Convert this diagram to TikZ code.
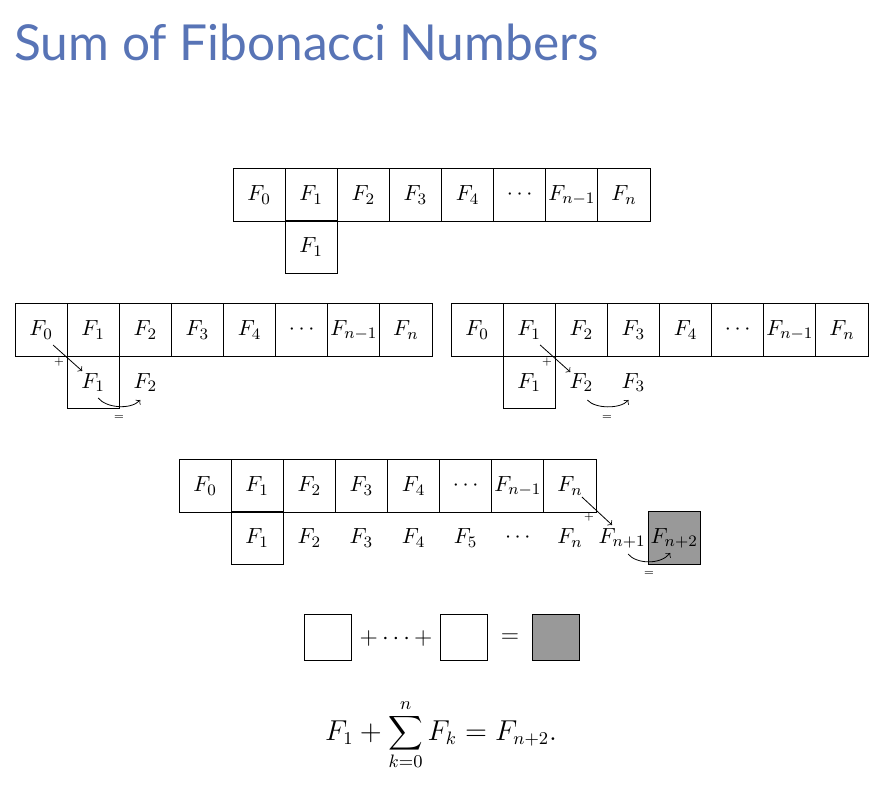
\documentclass[tikz,border=0pt]{standalone}
\usepackage{graphicx}
\usepackage{fontspec}
\newfontfamily\titlefont{Lato}
\definecolor{titleblue}{RGB}{88,116,182}
\definecolor{boxgray}{RGB}{153,153,153}
\newcommand{\bigsumsym}{\mathop{\vcenter{\hbox{\scalebox{1.2}{$\displaystyle\sum$}}}}}
\begin{document}
\begin{tikzpicture}[x=0.5pt,y=-0.5pt,
  cell/.style={draw,line width=0.5pt,minimum width=26.06pt,minimum height=26.06pt,inner sep=0pt,font=\fontsize{10.8}{12}\selectfont},
  txt/.style={inner sep=0pt,font=\fontsize{10.8}{12}\selectfont},
  graycell/.style={cell,fill=boxgray},
  arr/.style={->,line width=0.4pt},
  tiny/.style={inner sep=0pt,font=\fontsize{5}{6}\selectfont},
  ebox/.style={draw,line width=0.5pt,minimum width=23.5pt,minimum height=23pt,inner sep=0pt}]
\useasboundingbox (0,0) rectangle (886,800);
% title
\node[anchor=base west,inner sep=0pt,text=titleblue,font=\titlefont\fontsize{24.8}{28}\selectfont] (title) at (14,60) {Sum of Fibonacci Numbers};
% top row
\foreach \t [count=\i from 0] in {F_0,F_1,F_2,F_3,F_4,\cdots,F_{n-1},F_n}
  \node[cell] (T\i) at (233+26.06+52.125*\i,195) {$\t$};
\node[cell] (TB1) at (233+26.06+52.125,247) {$F_1$};
% middle left
\foreach \t [count=\i from 0] in {F_0,F_1,F_2,F_3,F_4,\cdots,F_{n-1},F_n}
  \node[cell] (ML\i) at (15+26.06+52.125*\i,330) {$\t$};
\node[cell] (MLb1) at (15+26.06+52.125,382.5) {$F_1$};
\node[txt] (MLt2) at (15+26.06+52.125*2,382.5) {$F_2$};
\draw[arr] ([shift={(12,15)}]ML0.center) -- ([shift={(-11,-11.5)}]MLb1.center);
\draw[arr] ([shift={(5,15.5)}]MLb1.center) .. controls ([shift={(13,25.5)}]MLb1.center) and ([shift={(-15,27.5)}]MLt2.center) .. ([shift={(-5,17.5)}]MLt2.center);
\node[tiny] (MLplus) at (59,362) {$+$};
\node[tiny] (MLeq) at (119,418) {$=$};
% middle right
\foreach \t [count=\i from 0] in {F_0,F_1,F_2,F_3,F_4,\cdots,F_{n-1},F_n}
  \node[cell] (MR\i) at (451+26.06+52.125*\i,330) {$\t$};
\node[cell] (MRb1) at (451+26.06+52.125,382.5) {$F_1$};
\node[txt] (MRt2) at (451+26.06+52.125*2,382.5) {$F_2$};
\node[txt] (MRt3) at (451+26.06+52.125*3,382.5) {$F_3$};
\draw[arr] ([shift={(11,15)}]MR1.center) -- ([shift={(-11,-10.5)}]MRt2.center);
\draw[arr] ([shift={(6,17.5)}]MRt2.center) .. controls ([shift={(14,26.5)}]MRt2.center) and ([shift={(-13,26.5)}]MRt3.center) .. ([shift={(-5,17.5)}]MRt3.center);
\node[tiny] (MRplus) at (547,362) {$+$};
\node[tiny] (MReq) at (607,418) {$=$};
% bottom
\foreach \t [count=\i from 0] in {F_0,F_1,F_2,F_3,F_4,\cdots,F_{n-1},F_n}
  \node[cell] (B\i) at (179+26.06+52.125*\i,486) {$\t$};
\node[cell] (BB1) at (179+26.06+52.125,538) {$F_1$};
\foreach \t [count=\i from 2] in {F_2,F_3,F_4,F_5,\cdots,F_n,F_{n+1}}
  \node[txt] (BT\i) at (179+26.06+52.125*\i,538) {$\t$};
\node[graycell] (BG) at (179+26.06+52.125*9,538) {$F_{n+2}$};
\draw[arr] ([shift={(12,11)}]B7.center) -- ([shift={(-10,-13)}]BT8.center);
\draw[arr] ([shift={(6,16)}]BT8.center) .. controls ([shift={(14,26)}]BT8.center) and ([shift={(-14,27)}]BG.center) .. ([shift={(-4,15)}]BG.center);
\node[tiny] (Bplus) at (589,517) {$+$};
\node[tiny] (Beq) at (649,573) {$=$};
% box equation
\node[ebox] (EA) at (327.5,637.5) {};
\node[inner sep=0pt,font=\fontsize{12.5}{14}\selectfont] (Edots) at (396,638) {$+\cdots+$};
\node[ebox] (EB) at (464,637.5) {};
\node[inner sep=0pt,font=\fontsize{12.5}{14}\selectfont] (Eeq) at (510,638) {$=$};
\node[ebox,fill=boxgray] (EC) at (556,637.5) {};
% formula
\node[anchor=base,inner sep=0pt,font=\fontsize{13.5}{16}\selectfont] (formula) at (441,740) {$\displaystyle F_1+\bigsumsym_{k=0}^{n}F_k=F_{n+2}.$};
\end{tikzpicture}
\end{document}
